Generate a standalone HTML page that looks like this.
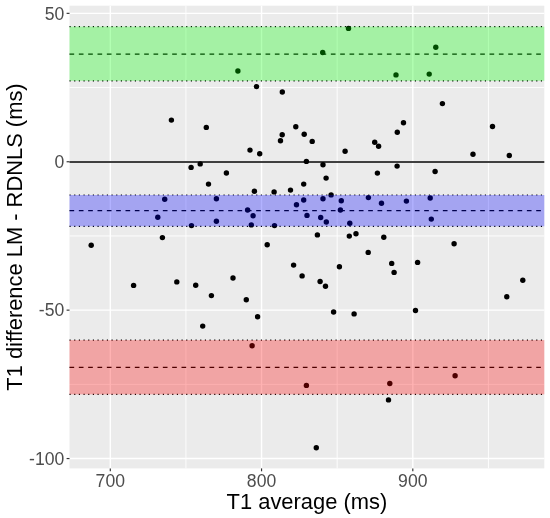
<!DOCTYPE html>
<html><head><meta charset="utf-8"><title>Bland-Altman plot</title>
<style>
html,body{margin:0;padding:0;background:#fff;}
body{width:550px;height:518px;overflow:hidden;}
svg{display:block;}
text{font-family:"Liberation Sans",Arial,sans-serif;}
.tk{fill:#4d4d4d;font-size:17.60px;}
.ti{fill:#000;font-size:21.90px;}
</style></head><body>
<svg width="550" height="518" viewBox="0 0 550 518">
<rect x="0" y="0" width="550" height="518" fill="#fff"/>
<rect x="69.50" y="5.70" width="474.80" height="462.70" fill="#ebebeb"/>
<g stroke="#fff" stroke-width="0.90">
<line x1="185.93" y1="5.70" x2="185.93" y2="468.40"/>
<line x1="337.18" y1="5.70" x2="337.18" y2="468.40"/>
<line x1="488.43" y1="5.70" x2="488.43" y2="468.40"/>
<line x1="69.50" y1="87.55" x2="544.30" y2="87.55"/>
<line x1="69.50" y1="235.95" x2="544.30" y2="235.95"/>
<line x1="69.50" y1="384.35" x2="544.30" y2="384.35"/>
</g>
<g stroke="#fff" stroke-width="1.40">
<line x1="110.30" y1="5.70" x2="110.30" y2="468.40"/>
<line x1="261.55" y1="5.70" x2="261.55" y2="468.40"/>
<line x1="412.80" y1="5.70" x2="412.80" y2="468.40"/>
<line x1="69.50" y1="13.35" x2="544.30" y2="13.35"/>
<line x1="69.50" y1="161.75" x2="544.30" y2="161.75"/>
<line x1="69.50" y1="310.15" x2="544.30" y2="310.15"/>
<line x1="69.50" y1="458.55" x2="544.30" y2="458.55"/>
</g>
<g fill="#000">
<circle cx="237.9" cy="71.0" r="2.70"/>
<circle cx="348.5" cy="28.4" r="2.70"/>
<circle cx="322.7" cy="52.5" r="2.70"/>
<circle cx="435.8" cy="47.3" r="2.70"/>
<circle cx="396.0" cy="74.9" r="2.70"/>
<circle cx="429.2" cy="74.1" r="2.70"/>
<circle cx="256.5" cy="86.6" r="2.70"/>
<circle cx="282.3" cy="92.0" r="2.70"/>
<circle cx="171.4" cy="120.1" r="2.70"/>
<circle cx="206.3" cy="127.4" r="2.70"/>
<circle cx="250.0" cy="150.1" r="2.70"/>
<circle cx="259.7" cy="153.7" r="2.70"/>
<circle cx="191.1" cy="167.4" r="2.70"/>
<circle cx="200.2" cy="163.9" r="2.70"/>
<circle cx="226.4" cy="173.0" r="2.70"/>
<circle cx="208.5" cy="184.1" r="2.70"/>
<circle cx="254.4" cy="191.2" r="2.70"/>
<circle cx="295.8" cy="126.7" r="2.70"/>
<circle cx="282.2" cy="134.8" r="2.70"/>
<circle cx="280.5" cy="140.8" r="2.70"/>
<circle cx="304.2" cy="134.3" r="2.70"/>
<circle cx="312.2" cy="141.4" r="2.70"/>
<circle cx="345.1" cy="151.3" r="2.70"/>
<circle cx="306.4" cy="161.4" r="2.70"/>
<circle cx="323.0" cy="164.8" r="2.70"/>
<circle cx="403.5" cy="122.7" r="2.70"/>
<circle cx="397.3" cy="132.3" r="2.70"/>
<circle cx="374.7" cy="142.2" r="2.70"/>
<circle cx="378.6" cy="146.2" r="2.70"/>
<circle cx="397.1" cy="166.1" r="2.70"/>
<circle cx="377.4" cy="173.1" r="2.70"/>
<circle cx="435.1" cy="171.5" r="2.70"/>
<circle cx="442.4" cy="103.6" r="2.70"/>
<circle cx="492.5" cy="126.5" r="2.70"/>
<circle cx="473.0" cy="154.2" r="2.70"/>
<circle cx="509.3" cy="155.5" r="2.70"/>
<circle cx="326.1" cy="178.1" r="2.70"/>
<circle cx="303.7" cy="184.1" r="2.70"/>
<circle cx="274.1" cy="191.9" r="2.70"/>
<circle cx="290.5" cy="190.1" r="2.70"/>
<circle cx="164.7" cy="199.2" r="2.70"/>
<circle cx="157.8" cy="217.3" r="2.70"/>
<circle cx="216.4" cy="198.8" r="2.70"/>
<circle cx="247.6" cy="210.0" r="2.70"/>
<circle cx="253.1" cy="215.8" r="2.70"/>
<circle cx="216.4" cy="221.2" r="2.70"/>
<circle cx="191.5" cy="225.6" r="2.70"/>
<circle cx="251.3" cy="224.9" r="2.70"/>
<circle cx="331.1" cy="194.9" r="2.70"/>
<circle cx="303.7" cy="200.0" r="2.70"/>
<circle cx="323.0" cy="198.8" r="2.70"/>
<circle cx="341.3" cy="200.7" r="2.70"/>
<circle cx="296.5" cy="204.8" r="2.70"/>
<circle cx="340.4" cy="210.0" r="2.70"/>
<circle cx="307.0" cy="215.4" r="2.70"/>
<circle cx="320.7" cy="217.5" r="2.70"/>
<circle cx="326.3" cy="222.0" r="2.70"/>
<circle cx="274.5" cy="225.6" r="2.70"/>
<circle cx="349.8" cy="223.3" r="2.70"/>
<circle cx="368.4" cy="197.6" r="2.70"/>
<circle cx="381.5" cy="203.2" r="2.70"/>
<circle cx="406.4" cy="201.1" r="2.70"/>
<circle cx="430.2" cy="198.0" r="2.70"/>
<circle cx="431.3" cy="219.1" r="2.70"/>
<circle cx="162.4" cy="237.6" r="2.70"/>
<circle cx="91.2" cy="245.3" r="2.70"/>
<circle cx="317.4" cy="234.9" r="2.70"/>
<circle cx="349.3" cy="236.1" r="2.70"/>
<circle cx="356.0" cy="233.7" r="2.70"/>
<circle cx="383.8" cy="237.2" r="2.70"/>
<circle cx="267.2" cy="244.7" r="2.70"/>
<circle cx="368.2" cy="252.4" r="2.70"/>
<circle cx="454.1" cy="243.8" r="2.70"/>
<circle cx="133.6" cy="285.4" r="2.70"/>
<circle cx="176.8" cy="281.9" r="2.70"/>
<circle cx="195.7" cy="285.2" r="2.70"/>
<circle cx="211.4" cy="295.6" r="2.70"/>
<circle cx="233.0" cy="278.0" r="2.70"/>
<circle cx="246.3" cy="299.7" r="2.70"/>
<circle cx="257.6" cy="316.7" r="2.70"/>
<circle cx="202.7" cy="326.1" r="2.70"/>
<circle cx="293.6" cy="265.1" r="2.70"/>
<circle cx="302.1" cy="275.9" r="2.70"/>
<circle cx="320.1" cy="281.5" r="2.70"/>
<circle cx="325.5" cy="286.3" r="2.70"/>
<circle cx="339.4" cy="266.8" r="2.70"/>
<circle cx="333.6" cy="312.0" r="2.70"/>
<circle cx="391.7" cy="263.4" r="2.70"/>
<circle cx="394.1" cy="272.4" r="2.70"/>
<circle cx="417.6" cy="262.4" r="2.70"/>
<circle cx="354.1" cy="313.9" r="2.70"/>
<circle cx="415.5" cy="310.5" r="2.70"/>
<circle cx="522.8" cy="280.2" r="2.70"/>
<circle cx="506.8" cy="296.8" r="2.70"/>
<circle cx="252.1" cy="345.8" r="2.70"/>
<circle cx="306.4" cy="385.4" r="2.70"/>
<circle cx="389.8" cy="383.5" r="2.70"/>
<circle cx="455.1" cy="375.8" r="2.70"/>
<circle cx="388.5" cy="399.9" r="2.70"/>
<circle cx="316.3" cy="447.8" r="2.70"/>
</g>
<line x1="69.50" y1="162.00" x2="544.30" y2="162.00" stroke="#000" stroke-width="1.300"/>
<g stroke="#000" stroke-width="1.167" fill="none">
<line x1="69.50" y1="54.20" x2="544.30" y2="54.20" stroke-dasharray="4.667 4.667"/>
<line x1="69.50" y1="26.60" x2="544.30" y2="26.60" stroke-dasharray="1.167 3.500"/>
<line x1="69.50" y1="80.80" x2="544.30" y2="80.80" stroke-dasharray="1.167 3.500"/>
</g>
<rect x="69.50" y="26.60" width="474.80" height="54.20" fill="#00ff00" fill-opacity="0.3"/>
<g stroke="#000" stroke-width="1.167" fill="none">
<line x1="69.50" y1="210.60" x2="544.30" y2="210.60" stroke-dasharray="4.667 4.667"/>
<line x1="69.50" y1="195.00" x2="544.30" y2="195.00" stroke-dasharray="1.167 3.500"/>
<line x1="69.50" y1="226.30" x2="544.30" y2="226.30" stroke-dasharray="1.167 3.500"/>
</g>
<rect x="69.50" y="195.00" width="474.80" height="31.30" fill="#0000ff" fill-opacity="0.3"/>
<g stroke="#000" stroke-width="1.167" fill="none">
<line x1="69.50" y1="367.30" x2="544.30" y2="367.30" stroke-dasharray="4.667 4.667"/>
<line x1="69.50" y1="340.10" x2="544.30" y2="340.10" stroke-dasharray="1.167 3.500"/>
<line x1="69.50" y1="394.40" x2="544.30" y2="394.40" stroke-dasharray="1.167 3.500"/>
</g>
<rect x="69.50" y="340.10" width="474.80" height="54.30" fill="#ff0000" fill-opacity="0.3"/>
<g stroke="#333" stroke-width="1.167">
<line x1="66.60" y1="13.35" x2="69.50" y2="13.35"/>
<line x1="66.60" y1="161.75" x2="69.50" y2="161.75"/>
<line x1="66.60" y1="310.15" x2="69.50" y2="310.15"/>
<line x1="66.60" y1="458.55" x2="69.50" y2="458.55"/>
<line x1="110.30" y1="468.40" x2="110.30" y2="471.30"/>
<line x1="261.55" y1="468.40" x2="261.55" y2="471.30"/>
<line x1="412.80" y1="468.40" x2="412.80" y2="471.30"/>
</g>
<text class="tk" x="64.3" y="19.65" text-anchor="end">50</text>
<text class="tk" x="64.3" y="168.05" text-anchor="end">0</text>
<text class="tk" x="64.3" y="316.45" text-anchor="end">-50</text>
<text class="tk" x="64.3" y="464.85" text-anchor="end">-100</text>
<text class="tk" x="110.30" y="486.6" text-anchor="middle">700</text>
<text class="tk" x="261.55" y="486.6" text-anchor="middle">800</text>
<text class="tk" x="412.80" y="486.6" text-anchor="middle">900</text>
<text class="ti" x="306.90" y="508.6" text-anchor="middle">T1 average (ms)</text>
<text class="ti" transform="translate(21.6 237.05) rotate(-90)" x="0" y="0" text-anchor="middle">T1 difference LM - RDNLS (ms)</text>
</svg>
</body></html>
